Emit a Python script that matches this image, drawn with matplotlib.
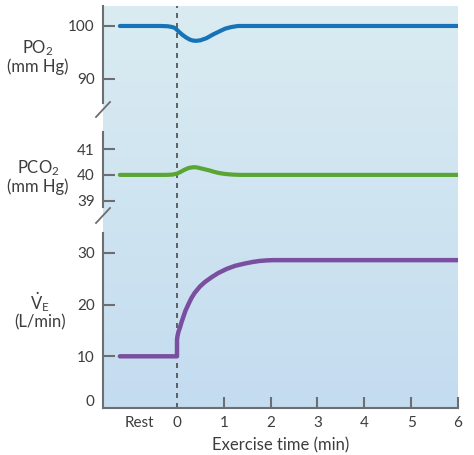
import numpy as np
import matplotlib
matplotlib.use("Agg")
import matplotlib.pyplot as plt
from matplotlib.lines import Line2D
from matplotlib.transforms import ScaledTranslation

plt.rcParams['font.family'] = ['Lato', 'DejaVu Sans']
plt.rcParams['mathtext.fontset'] = 'custom'
plt.rcParams['mathtext.rm'] = 'Lato'
plt.rcParams['mathtext.it'] = 'Lato'

# data (x in minutes, rest shown left of 0)
po2_t = [-1.22, -0.35, -0.2, -0.1, -0.04, 0.03, 0.12, 0.2, 0.27, 0.34, 0.41,
         0.5, 0.63, 0.77, 0.91, 1.03, 1.16, 1.3, 6.0]
po2_v = [100, 100, 99.95, 99.8, 99.6, 99.0, 98.3, 97.8, 97.45, 97.25, 97.2,
         97.3, 97.7, 98.4, 99.0, 99.5, 99.8, 100, 100]
pco2_t = [-1.22, -0.25, -0.1, 0.0, 0.08, 0.16, 0.25, 0.35, 0.43, 0.52, 0.61,
          0.70, 0.79, 0.88, 0.97, 1.06, 1.2, 1.35, 6.0]
pco2_v = [40, 40, 40.01, 40.05, 40.12, 40.2, 40.27, 40.3, 40.29, 40.25, 40.21,
          40.17, 40.12, 40.08, 40.05, 40.03, 40.01, 40, 40]
ve_t = [-1.22, 0.0, 0.0, 0.01, 0.03, 0.064, 0.1, 0.135, 0.18, 0.24, 0.31, 0.38,
        0.49, 0.60, 0.74, 0.88, 1.06, 1.24, 1.45, 1.62, 1.77, 1.92, 2.04, 6.0]
ve_v = [10, 10, 13.2, 13.9, 14.7, 15.6, 16.7, 17.6, 18.8, 20.0, 21.3, 22.3,
        23.5, 24.4, 25.3, 26.1, 26.9, 27.5, 27.95, 28.25, 28.45, 28.55, 28.6, 28.6]

x_ticks = [-0.8, 0, 1, 2, 3, 4, 5, 6]
x_labels = ["Rest", "0", "1", "2", "3", "4", "5", "6"]

W, H = 474, 455
fig = plt.figure(figsize=(W / 100, H / 100), dpi=100)

axis_col = "#6d6e71"
text_col = "#3d3d3d"
xlim = (-1.58, 6.0)
left, right = 103, 458
fs_tick = 11
fs_lab = 12


def frac(y_top, y_bot):
    return [left / W, 1 - y_bot / H, (right - left) / W, (y_bot - y_top) / H]


# background gradient panel
bg = fig.add_axes(frac(6, 408))
grad = np.linspace(0, 1, 256).reshape(-1, 1)
top_c = np.array([218, 236, 242]) / 255
bot_c = np.array([196, 220, 240]) / 255
img = top_c[None, None, :] * (1 - grad[:, :, None]) + bot_c[None, None, :] * grad[:, :, None]
bg.imshow(img, extent=[xlim[0], xlim[1], 0, 1], aspect='auto', origin='upper')
bg.set_xlim(xlim)
bg.set_ylim(0, 1)
bg.axvline(0, color="#4a4a4a", lw=1.2, dashes=(3, 3))
bg.axis('off')


def style(ax, ylim, ticks, labels):
    ax.set_facecolor('none')
    ax.set_xlim(xlim)
    ax.set_ylim(ylim)
    for s in ['top', 'right', 'bottom']:
        ax.spines[s].set_visible(False)
    ax.spines['left'].set_color(axis_col)
    ax.spines['left'].set_linewidth(1.5)
    ax.set_yticks(ticks)
    ax.set_yticklabels(labels)
    ax.tick_params(axis='y', direction='in', length=8.5, width=1.5, color=axis_col,
                   labelsize=fs_tick, labelcolor=text_col, pad=6)
    ax.set_xticks([])


ax1 = fig.add_axes(frac(6, 103))
style(ax1, (85.47, 103.77), [90, 100], ["90", "100"])
ax1.plot(po2_t, po2_v, color="#1673b8", lw=3, solid_capstyle='round',
         solid_joinstyle='round')

ax2 = fig.add_axes(frac(132, 207))
style(ax2, (38.75, 41.67), [39, 40, 41], ["39", "40", "41"])
ax2.plot(pco2_t, pco2_v, color="#5ba534", lw=3, solid_capstyle='round',
         solid_joinstyle='round')

ax3 = fig.add_axes(frac(233, 408))
style(ax3, (0, 33.85), [0, 10, 20, 30], ["0", "10", "20", "30"])
ax3.plot(ve_t, ve_v, color="#7b4f9f", lw=3.2, solid_capstyle='round',
         solid_joinstyle='round')
ax3.yaxis.get_major_ticks()[0].tick1line.set_visible(False)
lbl0 = ax3.get_yticklabels()[0]
lbl0.set_transform(lbl0.get_transform() + ScaledTranslation(0, 8 / 100, fig.dpi_scale_trans))

ax3.spines['bottom'].set_visible(True)
ax3.spines['bottom'].set_color(axis_col)
ax3.spines['bottom'].set_linewidth(1.5)
ax3.set_xticks(x_ticks)
ax3.set_xticklabels(x_labels)
ax3.tick_params(axis='x', direction='in', length=8, width=1.5, color=axis_col,
                labelsize=fs_tick, labelcolor=text_col, pad=6)
for t in ax3.xaxis.get_major_ticks()[:2]:
    t.tick1line.set_visible(False)
ax3.set_xlabel("Exercise time (min)", fontsize=fs_lab, color=text_col, labelpad=5)

# axis breaks
for y0, y1 in [(117, 102), (223, 208)]:
    fig.add_artist(Line2D([96 / W, 110 / W], [1 - y0 / H, 1 - y1 / H],
                          color=axis_col, lw=1.3))

# y labels
fig.text(38 / W, 1 - 57 / H, "PO$_2$\n(mm Hg)", ha='center', va='center',
         fontsize=fs_lab, color=text_col, linespacing=1.05)
fig.text(38 / W, 1 - 177 / H, "PCO$_2$\n(mm Hg)", ha='center', va='center',
         fontsize=fs_lab, color=text_col, linespacing=1.05)
fig.text(40 / W, 1 - 310 / H, r"$\dot{\mathrm{V}}_\mathrm{E}$" + "\n(L/min)", ha='center',
         va='center', fontsize=fs_lab, color=text_col, linespacing=1.05)

fig.savefig("out.png", dpi=100)
